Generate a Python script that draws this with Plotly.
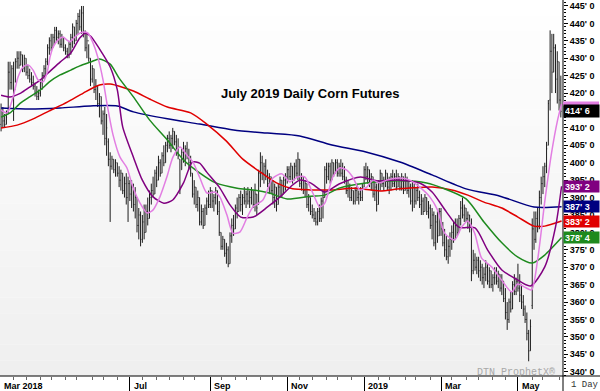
import plotly.graph_objects as go
import pandas as pd

# ---------------- data ----------------
start_date = "2018-03-22"

opens = [
    411,415,412,411,414,426,423,427,421,429,
    430,428,431,427,430,426,425,424,423,422,
    420,419,420,423,425,427,429,433,435,433,
    436,438,436,437,434,436,433,432,431,434,
    436,439,435,440,442,439,443,437,433,435,
    430,424,427,421,422,417,419,412,414,407,
    406,401,399,401,398,400,397,395,397,392,
    394,390,394,391,393,388,390,382,385,378,
    383,380,386,384,390,392,391,397,395,400,
    397,402,400,405,407,405,407,409,406,404,
    401,398,403,401,404,402,400,397,391,393,
    388,390,383,386,382,387,389,388,392,389,
    390,392,386,380,376,378,374,375,371,379,
    382,381,387,386,390,388,390,389,391,389,
    390,392,388,391,388,397,400,397,399,396,
    394,396,392,390,393,388,393,395,391,395,
    396,398,396,399,395,399,397,401,394,396,
    392,394,388,390,386,385,384,383,386,384,
    389,390,398,396,399,395,400,397,400,397,
    399,397,396,395,392,393,390,392,389,392,
    390,391,390,393,398,396,398,394,396,391,
    393,388,394,397,394,395,397,393,395,396,
    394,396,393,396,393,396,392,395,392,393,
    389,393,389,392,390,388,389,386,390,386,
    387,382,385,377,383,379,386,381,377,375,
    373,376,378,380,378,382,380,384,387,385,
    387,384,385,382,369,372,370,372,369,370,
    367,368,370,366,369,365,367,367,366,368,
    364,366,361,357,355,360,358,365,363,366,
    364,362,360,358,355,351,346,359,381,378,
    384,381,390,394,396,399,405,418,432,426,
    433,424,429,418,
]
highs = [
    417,416,414,415,429,429,428,429,430,432,
    432,432,431,431,430,428,427,426,425,423,
    422,421,424,426,428,430,434,436,437,437,
    439,439,438,438,437,436,434,433,435,437,
    440,439,441,443,444,445,445,438,437,434,
    430,428,427,424,422,420,419,415,416,414,
    407,403,402,401,401,400,399,398,397,396,
    397,396,395,395,394,393,390,387,386,385,
    388,388,390,392,394,396,398,399,402,401,
    403,405,406,408,409,408,410,409,408,407,
    401,404,406,405,406,404,402,397,395,393,
    392,390,388,387,388,390,392,393,392,391,
    393,392,389,380,379,378,377,376,380,384,
    385,388,390,391,392,391,393,392,393,392,
    393,392,394,391,398,403,402,400,401,398,
    397,396,395,394,393,394,396,395,396,397,
    399,399,400,399,400,401,403,401,397,396,
    395,394,391,390,388,387,386,387,388,390,
    392,399,400,400,400,401,400,401,401,400,
    401,400,399,396,395,394,393,392,393,394,
    392,393,394,399,400,399,398,397,396,395,
    394,395,398,397,396,398,397,396,397,398,
    397,398,397,396,397,396,397,396,395,394,
    395,394,393,394,392,391,390,391,390,389,
    388,387,386,385,386,387,387,383,381,379,
    378,380,382,383,384,384,385,389,390,388,
    387,386,385,384,375,374,373,373,372,371,
    370,372,371,370,369,368,370,370,369,368,
    368,366,364,360,361,363,366,368,367,371,
    368,365,362,359,357,352,355,384,386,386,
    387,392,396,399,400,406,418,438,437,437,
    434,432,429,425,
]
lows = [
    409,410,410,411,414,421,421,412,423,427,
    427,428,426,426,425,424,423,422,421,419,
    418,418,419,421,424,425,428,431,432,433,
    434,435,434,433,433,432,431,430,430,431,
    433,434,435,437,438,437,436,432,430,429,
    422,423,420,418,416,413,411,408,405,402,
    399,383,398,397,396,396,393,392,391,390,
    388,383,389,387,386,384,380,378,376,377,
    378,380,382,384,388,390,391,393,395,396,
    397,399,400,403,404,403,404,405,402,401,
    391,398,400,399,401,398,396,390,388,387,
    386,382,382,381,382,385,387,387,387,386,
    388,385,379,375,375,373,371,370,371,377,
    379,381,384,386,386,385,388,387,388,387,
    388,387,386,385,388,393,395,394,395,393,
    391,391,388,387,386,388,390,390,391,392,
    394,395,395,394,395,396,395,393,392,391,
    390,387,386,385,384,383,382,382,383,383,
    384,390,394,395,394,395,396,397,396,396,
    396,395,394,391,390,389,389,388,388,389,
    388,389,389,393,395,394,393,392,390,389,
    386,388,392,393,392,393,392,391,392,393,
    393,392,393,392,392,391,392,391,390,388,
    386,387,388,389,387,385,385,386,385,384,
    381,378,376,375,377,379,379,376,373,372,
    371,373,375,377,378,379,380,382,384,383,
    383,381,380,366,368,369,368,367,366,365,
    364,366,365,364,364,363,365,365,364,363,
    362,360,355,352,354,357,358,362,362,363,
    360,358,356,354,349,343,346,358,375,377,
    380,381,388,391,393,397,405,415,420,426,
    420,417,415,413,
]
closes = [
    415,412,411,413,426,423,427,420,429,430,
    428,431,427,430,426,425,424,423,422,420,
    419,420,423,425,427,429,433,435,433,436,
    438,436,437,434,436,433,432,431,434,436,
    439,435,440,442,439,443,437,433,435,430,
    424,427,421,422,417,419,412,414,407,410,
    401,399,401,398,400,397,395,397,392,394,
    390,394,391,393,388,390,382,385,378,383,
    380,386,384,390,392,391,397,395,400,397,
    402,400,405,407,405,407,409,406,404,402,
    393,403,401,404,402,400,397,391,393,388,
    390,383,386,382,387,389,388,392,389,390,
    392,386,380,376,378,374,375,371,379,382,
    381,387,386,390,388,390,389,391,389,390,
    392,388,391,387,397,400,397,399,396,394,
    396,392,390,393,388,393,395,391,395,396,
    398,396,399,395,399,397,401,394,396,392,
    394,388,390,386,385,384,383,386,384,389,
    390,398,396,399,395,400,397,400,397,399,
    397,396,395,392,393,390,392,389,392,390,
    391,390,393,398,396,398,394,396,391,393,
    388,394,397,394,395,397,393,395,396,394,
    396,393,396,393,396,392,395,392,393,389,
    393,389,392,390,388,389,386,390,386,387,
    382,385,377,383,379,386,381,377,375,373,
    376,378,380,378,382,380,384,387,385,387,
    384,385,382,369,372,370,372,369,370,367,
    368,370,366,369,365,367,369,366,368,364,
    366,361,357,355,360,358,365,363,366,364,
    362,360,358,355,351,346,353,381,378,384,
    382,390,394,396,399,404,417,432,426,433,
    424,429,418,414.75,
]

# moving averages (trading-day number, price)
ma_pink_day = [0,3.4,6.7,9.5,12.3,15.1,17.9,20.7,23.5,25.7,27.4,29.1,31.8,34.6,36.9,38.5,41.3,44.1,46.4,48.6,
               51.4,54.2,57.0,59.2,62.6,66.5,70.4,73.7,77.7,81.6,84.9,88.8,92.7,96.1,100.0,103.9,107.3,111.2,115.1,119.6,
               122.3,126.3,129.6,133.5,137.4,140.8,146.4,152.0,157.0,161.5,165.9,169.8,174.3,178.2,181.0,185.5,189.4,193.3,196.6,200.6,
               204.5,207.8,211.7,215.6,222.9,228.5,234.1,239.7,244.1,248.0,253.6,257.5,260.9,264.8,268.7,274.3,279.9,285.5,288.8,292.7,
               296.6,300.0,303.9,307.8,311.2,313.4]
ma_pink_val = [415.1,414.3,418.9,424.6,427.5,428.1,426.6,423.8,423.2,425.8,430.4,433.2,435.2,436.1,435.2,434.7,436.1,437.2,437.5,437.2,
               434.4,430.1,423.8,417.0,408.0,401.6,398.5,393.0,388.4,385.6,386.4,390.2,395.9,401.6,404.5,402.2,400.2,395.6,391.3,391.6,
               390.2,385.0,379.8,380.1,384.1,387.3,389.3,395.6,396.8,394.5,395.9,395.9,391.3,387.3,388.4,395.9,398.5,397.9,395.9,392.2,
               393.0,395.0,394.2,395.0,395.6,395.0,393.0,390.2,386.4,379.8,377.8,381.5,383.3,379.8,372.6,370.1,366.3,362.9,365.2,364.3,
               363.5,372.1,388.4,402.8,412.3,416.9]

ma_purple_day = [0,5,11,16,22,27,33,39,44,47,50,55,61,65,68,74,79,85,91,96,
                 102,107,111,115,122,128,134,141,149,156,163,167,173,181,189,201,210,223,234,241,
                 249,256,265,272,280,287,296,304,310,313.4]
ma_purple_val = [419.4,418.9,420.0,421.7,423.8,426.1,428.9,431.5,435.8,437.2,436.4,432.7,427.5,420.9,410.3,401.6,395.0,390.2,388.4,389.3,
                 394.2,400.2,399.9,397.3,393.0,387.9,384.4,384.4,387.3,390.2,393.6,395.0,394.2,391.6,393.9,395.9,394.8,395.0,394.2,391.6,
                 385.9,381.5,381.3,375.0,369.2,366.9,364.6,370.1,381.5,393.25]

ma_green_day = [0,5,11,16,22,27,33,39,44,50,55,61,66,74,83,93,102,111,120,132,
                141,150,160,173,181,189,204,223,238,247,260,270,280,289,297,304,313.4]
ma_green_val = [413.1,414.3,417.2,418.9,420.9,423.2,425.2,426.6,427.8,428.9,429.8,428.3,424.3,418.9,412.3,406.5,400.8,397.1,394.2,392.7,
                392.2,391.3,389.6,390.4,390.7,392.7,394.2,394.8,394.2,392.7,389.6,383.0,377.0,372.9,371.2,373.5,378.5]

ma_red_day = [0,9,18,27,37,46,55,61,74,83,93,106,115,126,135,145,154,163,173,185,
              197,212,223,241,252,261,270,280,289,298,304,313.4]
ma_red_val = [410.0,410.8,412.6,414.9,417.4,420.0,422.3,422.6,420.6,418.3,416.0,414.3,411.1,406.2,401.1,397.3,394.2,392.5,392.2,392.2,
              392.7,391.9,392.5,393.0,392.2,390.7,388.7,387.0,384.4,381.8,381.8,383.25]

ma_navy_day = [0,16,33,50,65,74,93,111,130,149,167,185,204,223,241,260,279,298,313.4]
ma_navy_val = [415.7,415.4,415.7,416.3,416.3,414.6,412.6,411.1,409.4,408.5,407.7,405.1,403.1,400.2,396.5,392.5,390.4,387.3,387.375]

# axis ticks / labels
price_ticks = [445,440,435,430,425,420,415,410,405,400,395,390,385,380,375,370,365,360,355,350,345,340]
price_tick_labels = ["445' 0","440' 0","435' 0","430' 0","425' 0","420' 0","415' 0","410' 0","405' 0","400' 0","395' 0",
                     "390' 0","385' 0","380' 0","375' 0","370' 0","365' 0","360' 0","355' 0","350' 0","345' 0","340' 0"]
month_starts = ["2018-07-01","2018-09-01","2018-11-01","2019-01-01","2019-03-01","2019-05-01"]
month_labels = ["Jul","Sep","Nov","2019","Mar","May"]
first_label = "Mar 2018"

# end-of-series value labels
end_values = [393.25, 387.375, 383.25, 378.5]
end_texts = ["393' 2", "387' 3", "383' 2", "378' 4"]
end_colors = ["#800080", "#000080", "#e00000", "#1e8a1e"]
pink_last = 416.9
last_close = 414.75
last_close_text = "414' 6"

# ---------------- figure ----------------
PINK, PURPLE, GREEN, RED, NAVY = "#e27ee2", "#800080", "#1e8a1e", "#e00000", "#000080"
BAR = "#1e1e1e"
FONT = "Liberation Sans"

dates = pd.bdate_range(start_date, periods=len(closes))
day = list(range(len(closes)))
tick_idx = [int(dates.searchsorted(pd.Timestamp(m))) for m in month_starts]
minor_idx = []
for mo in pd.date_range("2018-04-01", "2019-06-01", freq="MS"):
    for d in (1, 11, 21):
        t = mo + pd.Timedelta(days=d - 1)
        k = int(dates.searchsorted(t))
        if k < len(dates):
            minor_idx.append(k)

fig = go.Figure()
fig.add_trace(go.Ohlc(
    x=day, open=opens, high=highs, low=lows, close=closes,
    increasing=dict(line=dict(color=BAR, width=1)),
    decreasing=dict(line=dict(color=BAR, width=1)),
    tickwidth=0.35, hoverinfo="skip",
))
for xs, ys, col in [(ma_navy_day, ma_navy_val, NAVY), (ma_red_day, ma_red_val, RED),
                    (ma_green_day, ma_green_val, GREEN), (ma_purple_day, ma_purple_val, PURPLE),
                    (ma_pink_day, ma_pink_val, PINK)]:
    fig.add_trace(go.Scatter(x=xs, y=ys, mode="lines", hoverinfo="skip",
                             line=dict(color=col, width=1.5, shape="spline", smoothing=0.7)))

# background gradient (white top -> light grey bottom)
shapes = []
nb = 24
for k in range(nb):
    g = int(round(255 - 16 * (k + 0.5) / nb))
    shapes.append(dict(type="rect", xref="paper", yref="paper", x0=0, x1=1,
                       y0=1 - (k + 1) / nb, y1=1 - k / nb, layer="below",
                       line=dict(width=0), fillcolor=f"rgb({g},{g},{g})"))
# axis frame lines spanning the margins
shapes.append(dict(type="line", xref="paper", yref="paper", x0=0, x1=600 / 563, y0=0, y1=0,
                   line=dict(color="#000", width=1)))
shapes.append(dict(type="line", xref="paper", yref="paper", x0=1, x1=1, y0=1, y1=-15 / 376,
                   line=dict(color="#000", width=1)))
# pink MA value marker (mostly hidden behind the last-price box)
shapes.append(dict(type="rect", xref="paper", yref="y", x0=1, x1=599 / 563,
                   y0=pink_last - 0.6, y1=pink_last + 0.7, line=dict(width=0), fillcolor=PINK))

annotations = []
annotations.append(dict(text=first_label, x=0, xref="x", y=0, yref="paper", xanchor="left", yanchor="middle",
                        xshift=1, yshift=-10, showarrow=False,
                        font=dict(family=FONT, size=9, color="#000", weight="bold")))
for ix, lab in zip(tick_idx, month_labels):
    annotations.append(dict(text=lab, x=ix, xref="x", y=0, yref="paper", xanchor="left", yanchor="middle",
                            xshift=2, yshift=-10, showarrow=False,
                            font=dict(family=FONT, size=9, color="#000", weight="bold")))
for v, t, c in zip(end_values, end_texts, end_colors):
    annotations.append(dict(text=t, x=1, xref="paper", y=v, yref="y", xanchor="left", yanchor="middle",
                            showarrow=False, bgcolor=c, width=33, height=9, align="left", borderpad=1,
                            font=dict(family=FONT, size=9, color="#fff", weight="bold")))
annotations.append(dict(text=last_close_text, x=1, xref="paper", y=last_close, yref="y", xanchor="left",
                        yanchor="middle", showarrow=False, bgcolor="#000", width=33, height=10, align="left",
                        borderpad=1, font=dict(family=FONT, size=9, color="#fff", weight="bold")))
annotations.append(dict(text="July 2019 Daily Corn Futures", x=310 / 563, xref="paper", y=1 - 93 / 376,
                        yref="paper", xanchor="center", yanchor="middle", showarrow=False,
                        font=dict(family=FONT, size=13, color="#000", weight="bold")))
annotations.append(dict(text="DTN ProphetX®", x=557 / 563, xref="paper", y=1 - 372 / 376, yref="paper",
                        xanchor="right", yanchor="middle", showarrow=False,
                        font=dict(family="Liberation Mono", size=10, color="#a8a8a8")))
annotations.append(dict(text="1 Day", x=1, xref="paper", y=0, yref="paper", xanchor="left", yanchor="middle",
                        xshift=6, yshift=-9, showarrow=False,
                        font=dict(family="Liberation Mono", size=9, color="#333")))

fig.update_layout(
    width=600, height=391, margin=dict(l=0, r=37, t=0, b=15, autoexpand=False),
    paper_bgcolor="white", plot_bgcolor="white", showlegend=False,
    shapes=shapes, annotations=annotations,
    xaxis=dict(range=[-0.6, 314.2], showgrid=False, zeroline=False, showline=False,
               tickmode="array", tickvals=tick_idx, showticklabels=False,
               ticks="outside", ticklen=15, tickcolor="#000", tickwidth=1,
               rangeslider=dict(visible=False),
               minor=dict(tickmode="array", tickvals=minor_idx, ticks="outside", ticklen=3,
                          tickcolor="#666", tickwidth=1, showgrid=False)),
    yaxis=dict(side="right", range=[338.77, 446.72], showgrid=False, zeroline=False,
               showline=False, tickmode="array", tickvals=price_ticks, ticktext=price_tick_labels,
               ticks="outside", ticklen=4, tickcolor="#000", tickwidth=1,
               tickfont=dict(family=FONT, size=9, color="#000", weight="bold"),
               minor=dict(tickmode="linear", tick0=0, dtick=1, ticks="outside", ticklen=2,
                          tickcolor="#000", tickwidth=1, showgrid=False)),
)

fig.write_html("out.html", config={"displayModeBar": False},
               post_script="document.body.style.margin='0px';document.body.style.overflow='hidden';")
